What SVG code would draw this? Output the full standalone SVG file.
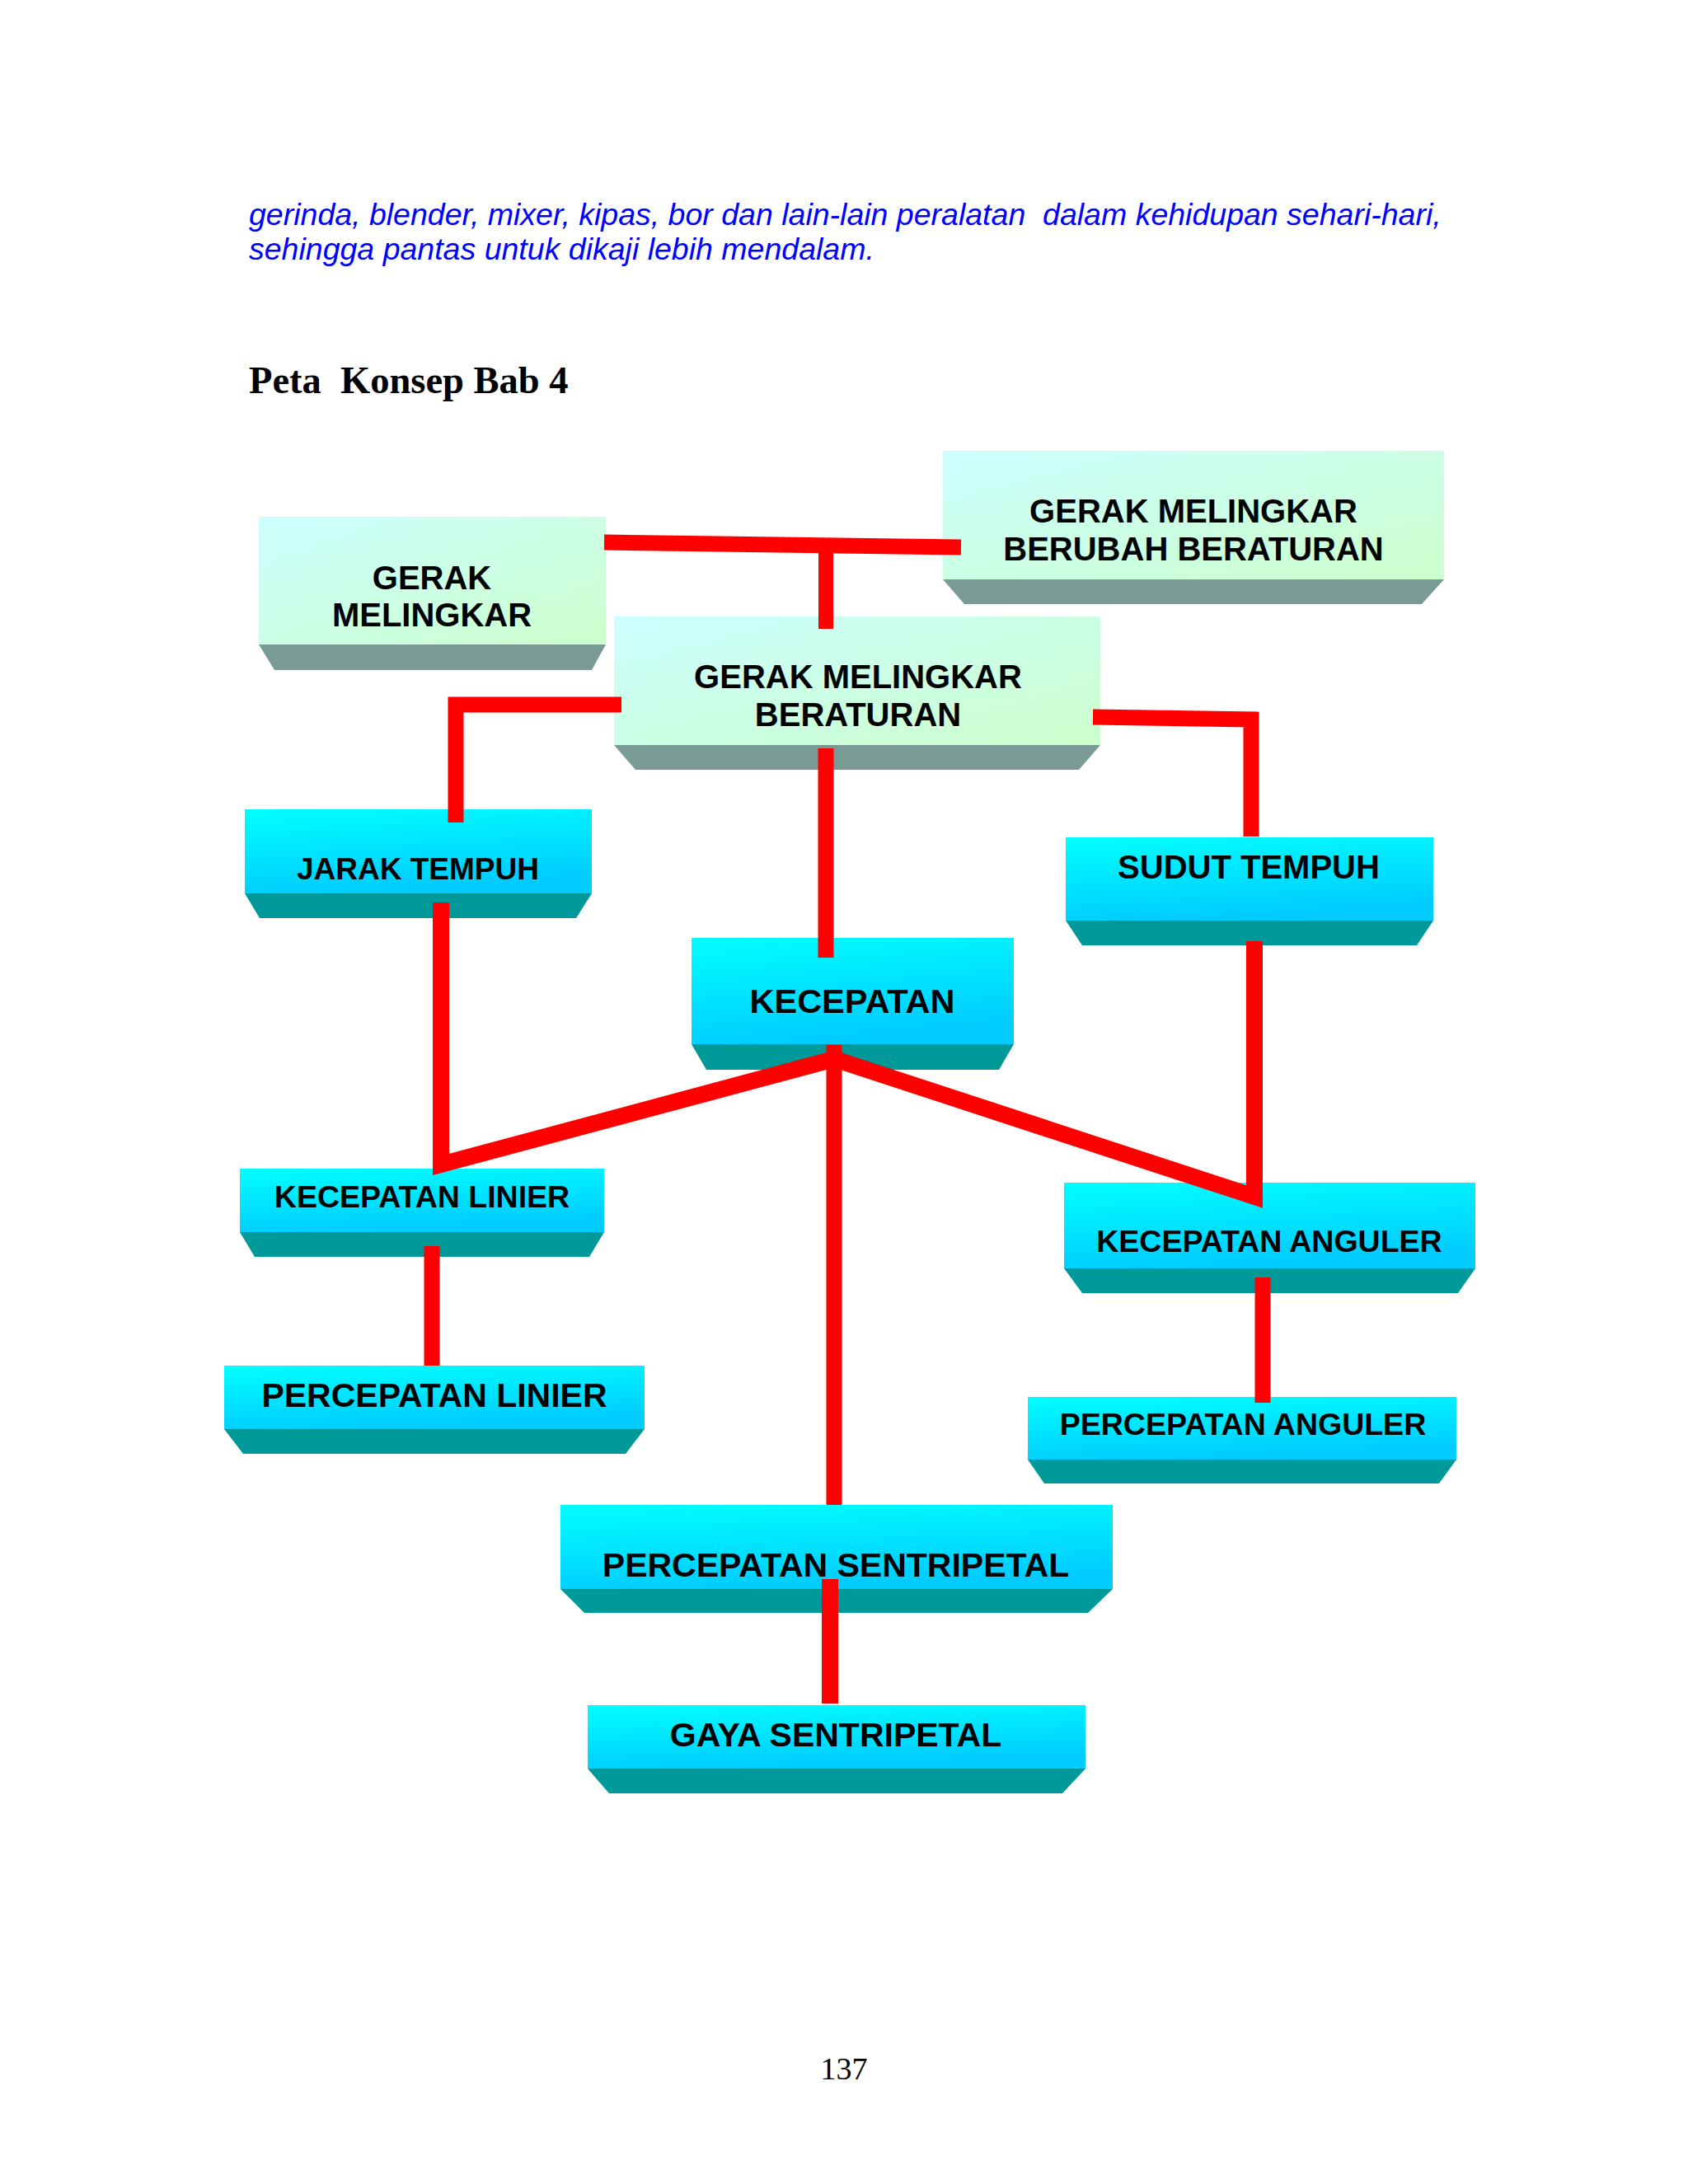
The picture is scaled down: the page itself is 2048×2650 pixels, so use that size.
<svg xmlns="http://www.w3.org/2000/svg" width="2048" height="2650" viewBox="0 0 2048 2650">
<defs>
<linearGradient id="gLight" x1="0" y1="0" x2="1" y2="1">
<stop offset="0" stop-color="#CCFFFF"/>
<stop offset="1" stop-color="#CCFFCC"/>
</linearGradient>
<linearGradient id="gCyan" x1="0" y1="0" x2="0.3" y2="1">
<stop offset="0" stop-color="#00FFFF"/>
<stop offset="1" stop-color="#00CCFF"/>
</linearGradient>
</defs>
<style>
.light{fill:url(#gLight)}
.cyan{fill:url(#gCyan)}
.bevL{fill:#7A9A96}
.bevC{fill:#009999}
.lbl{font-family:"Liberation Sans",Arial,sans-serif;font-weight:bold;fill:#000;text-anchor:middle}
.intro{font-family:"Liberation Sans",Arial,sans-serif;font-style:italic;font-size:37.5px;fill:#0000FF;white-space:pre}
.title{font-family:"Liberation Serif","Times New Roman",serif;font-weight:bold;font-size:46.5px;fill:#000;white-space:pre}
.pg{font-family:"Liberation Serif","Times New Roman",serif;font-size:38px;fill:#000;text-anchor:middle}
.con{fill:none;stroke:#FF0000;stroke-linejoin:miter;stroke-linecap:butt}
</style>
<rect width="2048" height="2650" fill="#FFFFFF"/>
<text class="intro" x="302" y="273">gerinda, blender, mixer, kipas, bor dan lain-lain peralatan  dalam kehidupan sehari-hari,</text>
<text class="intro" x="302" y="315">sehingga pantas untuk dikaji lebih mendalam.</text>
<text class="title" x="302" y="477">Peta  Konsep Bab 4</text>

<g id="node-gerak-melingkar">
<rect class="light" x="314" y="627" width="421" height="155"/>
<polygon class="bevL" points="314,782 735,782 718,813 333,813"/>
<text class="lbl" font-size="40" x="524" y="715">GERAK</text>
<text class="lbl" font-size="40" x="524" y="760">MELINGKAR</text>
</g>
<g id="node-gmbb">
<rect class="light" x="1144" y="547" width="608" height="156"/>
<polygon class="bevL" points="1144,703 1752,703 1725,733 1170,733"/>
<text class="lbl" font-size="40" x="1448" y="634">GERAK MELINGKAR</text>
<text class="lbl" font-size="40" x="1448" y="680">BERUBAH BERATURAN</text>
</g>
<g id="node-gmb">
<rect class="light" x="745" y="748" width="590" height="156"/>
<polygon class="bevL" points="745,904 1335,904 1309,934 771,934"/>
<text class="lbl" font-size="40" x="1041" y="835">GERAK MELINGKAR</text>
<text class="lbl" font-size="40" x="1041" y="881">BERATURAN</text>
</g>
<g id="node-jarak-tempuh">
<rect class="cyan" x="297" y="982" width="421" height="102"/>
<polygon class="bevC" points="297,1084 718,1084 699,1114 315,1114"/>
<text class="lbl" font-size="37" x="507" y="1067">JARAK TEMPUH</text>
</g>
<g id="node-sudut-tempuh">
<rect class="cyan" x="1293" y="1016" width="446" height="101"/>
<polygon class="bevC" points="1293,1117 1739,1117 1719,1147 1313,1147"/>
<text class="lbl" font-size="40" x="1515" y="1066">SUDUT TEMPUH</text>
</g>
<g id="node-kecepatan">
<rect class="cyan" x="839" y="1138" width="391" height="129"/>
<polygon class="bevC" points="839,1267 1230,1267 1212,1298 857,1298"/>
<text class="lbl" font-size="41.5" x="1034" y="1229">KECEPATAN</text>
</g>
<g id="node-kecepatan-linier">
<rect class="cyan" x="291" y="1418" width="442" height="77"/>
<polygon class="bevC" points="291,1495 733,1495 715,1525 309,1525"/>
<text class="lbl" font-size="37.5" x="512" y="1465">KECEPATAN LINIER</text>
</g>
<g id="node-kecepatan-anguler">
<rect class="cyan" x="1291" y="1435" width="499" height="104"/>
<polygon class="bevC" points="1291,1539 1790,1539 1769,1569 1313,1569"/>
<text class="lbl" font-size="37.5" x="1540" y="1519">KECEPATAN ANGULER</text>
</g>
<g id="node-percepatan-linier">
<rect class="cyan" x="272" y="1657" width="510" height="77"/>
<polygon class="bevC" points="272,1734 782,1734 759,1764 295,1764"/>
<text class="lbl" font-size="41" x="527" y="1707">PERCEPATAN LINIER</text>
</g>
<g id="node-percepatan-anguler">
<rect class="cyan" x="1247" y="1695" width="520" height="76"/>
<polygon class="bevC" points="1247,1771 1767,1771 1746,1800 1267,1800"/>
<text class="lbl" font-size="37.5" x="1508" y="1741">PERCEPATAN ANGULER</text>
</g>
<g id="node-percepatan-sentripetal">
<rect class="cyan" x="680" y="1826" width="670" height="102"/>
<polygon class="bevC" points="680,1928 1350,1928 1320,1957 709,1957"/>
<text class="lbl" font-size="41" x="1014" y="1913">PERCEPATAN SENTRIPETAL</text>
</g>
<g id="node-gaya-sentripetal">
<rect class="cyan" x="713" y="2069" width="604" height="77"/>
<polygon class="bevC" points="713,2146 1317,2146 1289,2176 739,2176"/>
<text class="lbl" font-size="41" x="1014" y="2119">GAYA SENTRIPETAL</text>
</g>

<g id="connectors">
<line class="con" stroke-width="19" x1="733" y1="658" x2="1166" y2="664"/>
<line class="con" stroke-width="18" x1="1002" y1="662" x2="1002" y2="763"/>
<polyline class="con" stroke-width="19" points="754,855 553,855 553,998"/>
<polyline class="con" stroke-width="19" points="1326,870 1518,873 1518,1015"/>
<line class="con" stroke-width="19" x1="1002" y1="908" x2="1002" y2="1162"/>
<polyline class="con" stroke-width="20" points="535,1095 535,1413 1012,1285"/>
<polyline class="con" stroke-width="20" points="1522,1142 1522,1452 1012,1285"/>
<line class="con" stroke-width="19" x1="1012" y1="1268" x2="1012" y2="1826"/>
<line class="con" stroke-width="19" x1="524" y1="1512" x2="524" y2="1657"/>
<line class="con" stroke-width="19" x1="1532" y1="1550" x2="1532" y2="1702"/>
<line class="con" stroke-width="20" x1="1007" y1="1916" x2="1007" y2="2067"/>
</g>

<text class="pg" x="1024" y="2523">137</text>
</svg>
